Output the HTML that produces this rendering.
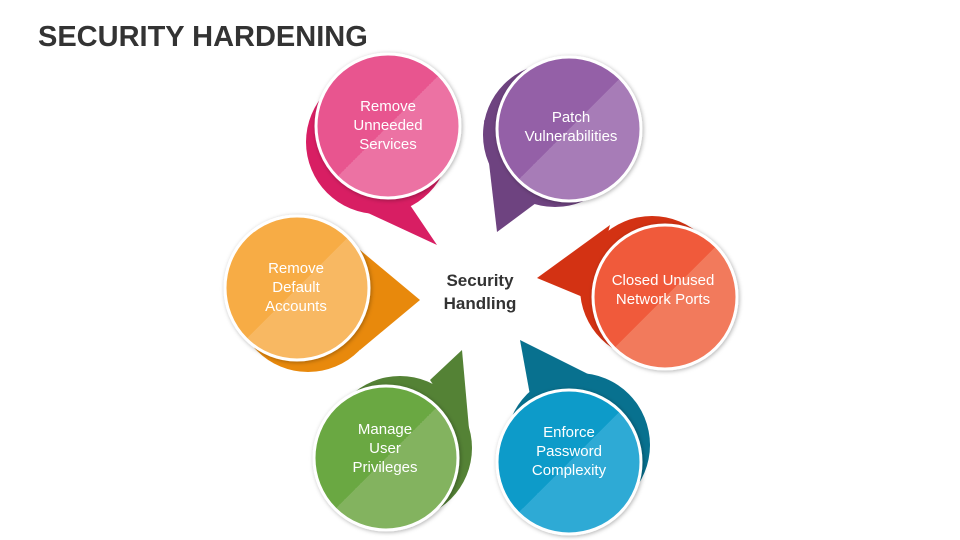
<!DOCTYPE html>
<html><head><meta charset="utf-8"><style>
html,body{margin:0;padding:0;background:#fff;}
svg{display:block;font-family:"Liberation Sans",sans-serif;}
</style></head><body>
<svg width="960" height="540" viewBox="0 0 960 540" xmlns="http://www.w3.org/2000/svg">
<defs>
<linearGradient id="gp" x1="0" y1="0" x2="1" y2="1"><stop offset="0.5" stop-color="#e8548f"/><stop offset="0.5" stop-color="#ec72a3"/></linearGradient>
<linearGradient id="gu" x1="0" y1="0" x2="1" y2="1"><stop offset="0.5" stop-color="#9461a7"/><stop offset="0.5" stop-color="#a77cb7"/></linearGradient>
<linearGradient id="gr" x1="0" y1="0" x2="1" y2="1"><stop offset="0.5" stop-color="#f05a3a"/><stop offset="0.5" stop-color="#f27a5c"/></linearGradient>
<linearGradient id="gb" x1="0" y1="0" x2="1" y2="1"><stop offset="0.5" stop-color="#0c9bc9"/><stop offset="0.5" stop-color="#2eaad5"/></linearGradient>
<linearGradient id="gg" x1="0" y1="0" x2="1" y2="1"><stop offset="0.5" stop-color="#6aa842"/><stop offset="0.5" stop-color="#83b35f"/></linearGradient>
<linearGradient id="go" x1="0" y1="0" x2="1" y2="1"><stop offset="0.5" stop-color="#f7ac45"/><stop offset="0.5" stop-color="#f8b862"/></linearGradient>
<filter id="sh" x="-20%" y="-20%" width="140%" height="140%"><feDropShadow dx="1" dy="1" stdDeviation="2" flood-opacity="0.3"/></filter>
</defs>
<text x="38" y="46" font-size="29" font-weight="bold" fill="#333">SECURITY HARDENING</text>

<circle cx="378" cy="142" r="72" fill="#d81e63"/>
<polygon points="340,200 410,205 437,245" fill="#d81e63"/>
<circle cx="388" cy="126" r="72" fill="url(#gp)" stroke="#fff" stroke-width="3" filter="url(#sh)"/>
<circle cx="555" cy="135" r="72" fill="#6e4380"/>
<polygon points="484,120 540,200 497,232" fill="#6e4380"/>
<circle cx="569" cy="129" r="72" fill="url(#gu)" stroke="#fff" stroke-width="3" filter="url(#sh)"/>
<circle cx="652" cy="288" r="72" fill="#d33213"/>
<polygon points="610,225 590,300 537,278" fill="#d33213"/>
<circle cx="665" cy="297" r="72" fill="url(#gr)" stroke="#fff" stroke-width="3" filter="url(#sh)"/>
<circle cx="578" cy="445" r="72" fill="#08718f"/>
<polygon points="600,380 530,395 520,340" fill="#08718f"/>
<circle cx="569" cy="462" r="72" fill="url(#gb)" stroke="#fff" stroke-width="3" filter="url(#sh)"/>
<circle cx="400" cy="448" r="72" fill="#548235"/>
<polygon points="430,380 470,440 462,350" fill="#548235"/>
<circle cx="386" cy="458" r="72" fill="url(#gg)" stroke="#fff" stroke-width="3" filter="url(#sh)"/>
<circle cx="308" cy="300" r="72" fill="#e8890c"/>
<polygon points="360,250 360,350 420,300" fill="#e8890c"/>
<circle cx="297" cy="288" r="72" fill="url(#go)" stroke="#fff" stroke-width="3" filter="url(#sh)"/>

<g fill="#fff" font-size="15" text-anchor="middle">
<text x="388" y="111">Remove</text><text x="388" y="130">Unneeded</text><text x="388" y="149">Services</text>
<text x="571" y="122">Patch</text><text x="571" y="141">Vulnerabilities</text>
<text x="663" y="285">Closed Unused</text><text x="663" y="304">Network Ports</text>
<text x="569" y="437">Enforce</text><text x="569" y="456">Password</text><text x="569" y="475">Complexity</text>
<text x="385" y="434">Manage</text><text x="385" y="453">User</text><text x="385" y="472">Privileges</text>
<text x="296" y="273">Remove</text><text x="296" y="292">Default</text><text x="296" y="311">Accounts</text>
</g>
<g fill="#333" font-size="17" font-weight="bold" text-anchor="middle">
<text x="480" y="286">Security</text><text x="480" y="309">Handling</text>
</g>
</svg>
</body></html>
